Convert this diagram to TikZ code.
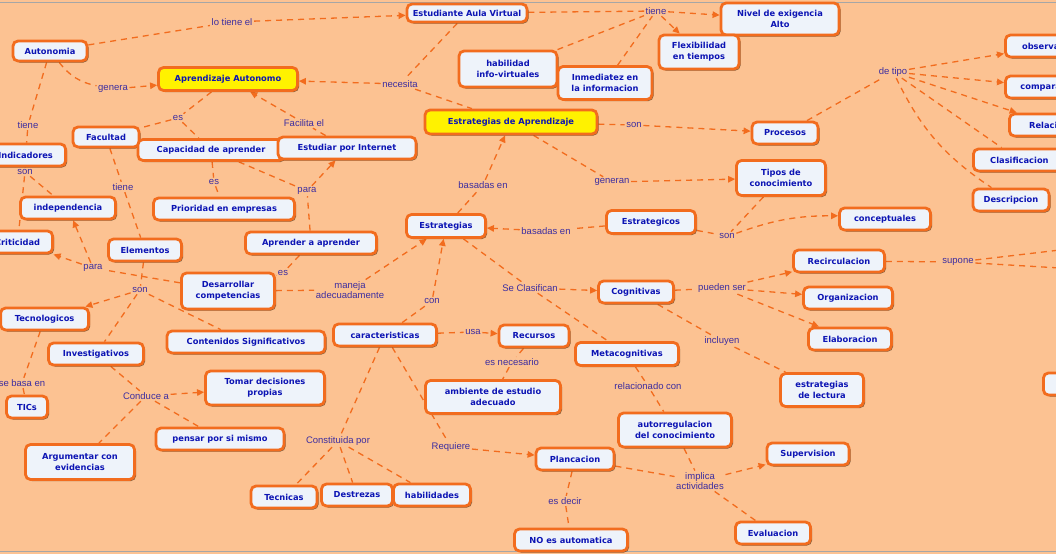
\documentclass[tikz,border=0pt]{standalone}
\usepackage{fontspec}
\setmainfont{Liberation Sans}
\newfontfamily\boxfont{DejaVu Sans}
\usetikzlibrary{arrows.meta,shadows}
\definecolor{bgc}{RGB}{252,194,146}
\definecolor{boxc}{RGB}{238,243,250}
\definecolor{orgc}{RGB}{242,108,30}
\definecolor{navy}{RGB}{12,20,180}
\definecolor{labc}{RGB}{60,45,160}
\pgfdeclarelayer{bg}
\pgfsetlayers{bg,main}
\tikzset{
 box/.style={draw=orgc,line width=2.8pt,rounded corners=5pt,fill=boxc,text=navy,align=center,inner sep=1pt,
   font=\boxfont\bfseries\fontsize{8.3}{11}\selectfont,drop shadow={shadow xshift=1.5pt,shadow yshift=-1.5pt,fill=black!60!brown,opacity=0.7}},
 yel/.style={box,fill=yellow},
 lab/.style={text=labc,font=\fontsize{9.5}{10.5}\selectfont,inner sep=1.5pt,align=center},
 ed/.style={draw=orgc,dash pattern=on 6pt off 5pt,line width=1.3pt},
 ar/.style={ed,-{Triangle[length=7pt,width=6.5pt]}},
}
\begin{document}
\begin{tikzpicture}[x=1pt,y=-1pt]
\useasboundingbox (0,0) rectangle (1056,554);
\begin{pgfonlayer}{bg}
\fill[bgc] (0,0) rectangle (1056,554);
\draw[gray!70,line width=1pt] (0,2) -- (1056,2) (0,551) -- (1056,551);
\end{pgfonlayer}
% nodes
\node[box,minimum width=120pt,minimum height=18pt] (est) at (467,13) {Estudiante Aula Virtual};
\node[box,minimum width=118pt,minimum height=32pt] (niv) at (780,19) {Nivel de exigencia\\Alto};
\node[box,minimum width=74pt,minimum height=20pt] (aut) at (50,51) {Autonomia};
\node[yel,minimum width=139pt,minimum height=23pt] (aa) at (228,79) {Aprendizaje Autonomo};
\node[box,minimum width=98pt,minimum height=36pt] (hab) at (508,69) {habilidad\\info-virtuales};
\node[box,minimum width=80pt,minimum height=34pt] (flex) at (699,52) {Flexibilidad\\en tiempos};
\node[box,minimum width=94pt,minimum height=33pt] (inm) at (605,83) {Inmediatez en\\la informacion};
\node[yel,minimum width=172pt,minimum height=24pt] (eda) at (511,122) {Estrategias de Aprendizaje};
\node[box,minimum width=66pt,minimum height=22pt] (proc) at (785,133) {Procesos};
\node[box,minimum width=89pt,minimum height=35pt] (tipos) at (781,178) {Tipos de\\conocimiento};
\node[box,minimum width=90pt,minimum height=22pt,anchor=west] (obs) at (1004,46) {observacion};
\node[box,minimum width=90pt,minimum height=22pt,anchor=west] (comp) at (1004,87) {comparacion};
\node[box,minimum width=90pt,minimum height=22pt,anchor=west] (rel) at (1008,125) {Relaciones};
\node[box,minimum width=92pt,minimum height=22pt,anchor=west] (clas) at (972,160) {Clasificacion};
\node[box,minimum width=76pt,minimum height=22pt] (desc) at (1011,200) {Descripcion};
\node[box,minimum width=40pt,minimum height=22pt,anchor=west] (fx) at (1042,384) {F};
\node[box,minimum width=66pt,minimum height=20pt] (fac) at (106,137) {Facultad};
\node[box,minimum width=146pt,minimum height=21pt] (cap) at (211,150) {Capacidad de aprender};
\node[box,minimum width=138pt,minimum height=22pt] (epi) at (347,148) {Estudiar por Internet};
\node[box,minimum width=80pt,minimum height=22pt,anchor=east] (ind) at (67,155) {Indicadores};
\node[box,minimum width=95pt,minimum height=22pt] (indep) at (68,208) {independencia};
\node[box,minimum width=141pt,minimum height=22pt] (prio) at (224,209) {Prioridad en empresas};
\node[box,minimum width=79pt,minimum height=23pt] (estr) at (446,226) {Estrategias};
\node[box,minimum width=89pt,minimum height=23pt] (estg) at (651,222) {Estrategicos};
\node[box,minimum width=91pt,minimum height=22pt] (conc) at (885,219) {conceptuales};
\node[box,minimum width=70pt,minimum height=22pt,anchor=east] (crit) at (54,242) {Criticidad};
\node[box,minimum width=73pt,minimum height=22pt] (elem) at (145,250) {Elementos};
\node[box,minimum width=131pt,minimum height=22pt] (aaa) at (311,243) {Aprender a aprender};
\node[box,minimum width=91pt,minimum height=22pt] (recir) at (839,261) {Recirculacion};
\node[box,minimum width=93pt,minimum height=36pt] (des) at (228,291) {Desarrollar\\competencias};
\node[box,minimum width=75pt,minimum height=22pt] (cog) at (636,292) {Cognitivas};
\node[box,minimum width=89pt,minimum height=22pt] (org) at (848,298) {Organizacion};
\node[box,minimum width=88pt,minimum height=22pt,anchor=east] (tec) at (90,319) {Tecnologicos};
\node[box,minimum width=103pt,minimum height=22pt] (car) at (385,335) {caracteristicas};
\node[box,minimum width=158pt,minimum height=22pt] (cont) at (246,342) {Contenidos Significativos};
\node[box,minimum width=70pt,minimum height=22pt] (recu) at (534,336) {Recursos};
\node[box,minimum width=83pt,minimum height=22pt] (elab) at (850,339) {Elaboracion};
\node[box,minimum width=95pt,minimum height=22pt] (inv) at (96,354) {Investigativos};
\node[box,minimum width=103pt,minimum height=23pt] (meta) at (627,354) {Metacognitivas};
\node[box,minimum width=135pt,minimum height=33pt] (amb) at (493,397) {ambiente de estudio\\adecuado};
\node[box,minimum width=119pt,minimum height=34pt] (tom) at (265,388) {Tomar decisiones\\propias};
\node[box,minimum width=83pt,minimum height=33pt] (lect) at (822,390) {estrategias\\de lectura};
\node[box,minimum width=41pt,minimum height=22pt] (tics) at (27,407) {TICs};
\node[box,minimum width=113pt,minimum height=34pt] (autr) at (675,430) {autorregulacion\\del conocimiento};
\node[box,minimum width=128pt,minimum height=22pt] (pen) at (220,439) {pensar por si mismo};
\node[box,minimum width=109pt,minimum height=35pt] (arg) at (80,462) {Argumentar con\\evidencias};
\node[box,minimum width=82pt,minimum height=22pt] (sup) at (808,454) {Supervision};
\node[box,minimum width=78pt,minimum height=22pt] (plan) at (575,459) {Plancacion};
\node[box,minimum width=66pt,minimum height=22pt] (tecn) at (284,497) {Tecnicas};
\node[box,minimum width=71pt,minimum height=22pt] (destr) at (357,495) {Destrezas};
\node[box,minimum width=77pt,minimum height=22pt] (habi) at (432,495) {habilidades};
\node[box,minimum width=75pt,minimum height=22pt] (eval) at (773,533) {Evaluacion};
\node[box,minimum width=113pt,minimum height=22pt] (noes) at (571,540) {NO es automatica};
% labels
\node[lab] (l1) at (232,22) {lo tiene el};
\node[lab] (l2) at (656,11) {tiene};
\node[lab] (l3) at (113,89) {genera};
\node[lab] (l4) at (400,84) {necesita};
\node[lab] (l5) at (28,125) {tiene};
\node[lab] (l6) at (178,118) {es};
\node[lab] (l7) at (304,123) {Facilita el};
\node[lab] (l8) at (634,125) {son};
\node[lab] (l9) at (893,72) {de tipo};
\node[lab] (l10) at (25,172) {son};
\node[lab] (l11) at (123,187) {tiene};
\node[lab] (l12) at (214,182) {es};
\node[lab] (l13) at (307,191) {para};
\node[lab] (l14) at (483,185) {basadas en};
\node[lab] (l15) at (612,182) {generan};
\node[lab] (l16) at (546,231) {basadas en};
\node[lab] (l17) at (727,236) {son};
\node[lab] (l18) at (93,268) {para};
\node[lab] (l19) at (283,273) {es};
\node[lab] (l20) at (350,290) {maneja\\adecuadamente};
\node[lab] (l21) at (140,290) {son};
\node[lab] (l22) at (530,288) {Se Clasifican};
\node[lab] (l23) at (722,288) {pueden ser};
\node[lab] (l24) at (958,262) {supone};
\node[lab] (l25) at (432,301) {con};
\node[lab] (l26) at (473,332) {usa};
\node[lab] (l27) at (512,362) {es necesario};
\node[lab] (l28) at (722,341) {incluyen};
\node[lab] (l29) at (22,383) {se basa en};
\node[lab] (l30) at (146,396) {Conduce a};
\node[lab] (l31) at (648,386) {relacionado con};
\node[lab] (l32) at (338,441) {Constituida por};
\node[lab] (l33) at (451,447) {Requiere};
\node[lab] (l34) at (700,481) {implica\\actividades};
\node[lab] (l35) at (565,501) {es decir};
\coordinate (rs1) at (1060,250);
\coordinate (rs2) at (1060,268);
% edges
\begin{pgfonlayer}{bg}
\draw[ed] (aut) -- (l1); \draw[ar] (l1) -- (est);
\draw[ed] (est) -- (l4); \draw[ed] (l4) -- (eda); \draw[ar] (l4) -- (aa);
\draw[ed] (aut) to[bend right=20] (l3); \draw[ar] (l3) -- (aa);
\draw[ed] (aut) -- (l5); \draw[ed] (l5) -- (ind);
\draw[ed] (aa) -- (l6); \draw[ed] (l6) -- (fac); \draw[ed] (l6) -- (cap);
\draw[ed] (epi) -- (l7); \draw[ar] (l7) -- (aa);
\draw[ed] (est) -- (l2); \draw[ar] (l2) -- (niv); \draw[ar] (l2) -- (flex);
\draw[ed] (hab) -- (l2); \draw[ed] (inm) -- (l2);
\draw[ed] (eda) -- (l8); \draw[ar] (l8) -- (proc);
\draw[ed] (proc) -- (l9);
\draw[ar] (l9) -- (obs); \draw[ar] (l9) -- (comp); \draw[ar] (l9) -- (rel);
\draw[ed] (l9) -- (clas); \draw[ed] (l9) to[bend right=15] (desc);
\draw[ed] (estr) -- (l14); \draw[ar] (l14) -- (eda);
\draw[ed] (eda) -- (l15); \draw[ar] (l15) -- (tipos);
\draw[ed] (estg) -- (l16); \draw[ar] (l16) -- (estr);
\draw[ed] (tipos) -- (l17); \draw[ed] (estg) -- (l17); \draw[ar] (l17) to[bend left=10] (conc);
\draw[ed] (ind) -- (l10); \draw[ed] (l10) -- (indep); \draw[ed] (l10) -- (crit);
\draw[ed] (fac) -- (l11); \draw[ed] (l11) -- (elem);
\draw[ed] (cap) -- (l12); \draw[ed] (l12) -- (prio);
\draw[ed] (cap) -- (l13); \draw[ed] (aaa) -- (l13); \draw[ar] (l13) -- (epi);
\draw[ed] (aaa) -- (l19); \draw[ed] (l19) -- (des);
\draw[ed] (des) -- (l20); \draw[ar] (l20) -- (estr);
\draw[ed] (des) -- (l18); \draw[ar] (l18) -- (crit); \draw[ar] (l18) -- (indep);
\draw[ed] (elem) -- (l21); \draw[ar] (l21) -- (tec); \draw[ed] (l21) -- (inv); \draw[ed] (l21) -- (cont);
\draw[ed] (estr) -- (l22); \draw[ar] (l22) -- (cog); \draw[ed] (l22) -- (meta);
\draw[ed] (car) -- (l25); \draw[ar] (l25) -- (estr);
\draw[ed] (car) -- (l26); \draw[ar] (l26) -- (recu);
\draw[ed] (recu) -- (l27); \draw[ed] (l27) -- (amb);
\draw[ed] (car) -- (l32); \draw[ed] (l32) -- (tecn); \draw[ed] (l32) -- (destr); \draw[ed] (l32) -- (habi);
\draw[ed] (car) -- (l33); \draw[ar] (l33) -- (plan);
\draw[ed] (cog) -- (l23); \draw[ar] (l23) -- (recir); \draw[ar] (l23) -- (org); \draw[ar] (l23) -- (elab);
\draw[ed] (cog) -- (l28); \draw[ed] (l28) -- (lect);
\draw[ed] (recir) -- (l24); \draw[ed] (l24) -- (rs1); \draw[ed] (l24) -- (rs2);
\draw[ed] (meta) -- (l31); \draw[ed] (l31) -- (autr);
\draw[ed] (autr) -- (l34); \draw[ed] (plan) -- (l34); \draw[ar] (l34) -- (sup); \draw[ed] (l34) -- (eval);
\draw[ed] (plan) -- (l35); \draw[ed] (l35) -- (noes);
\draw[ed] (tec) -- (l29); \draw[ed] (l29) -- (tics);
\draw[ed] (inv) -- (l30); \draw[ar] (l30) -- (tom); \draw[ed] (l30) -- (pen); \draw[ed] (l30) -- (arg);
\end{pgfonlayer}
\end{tikzpicture}
\end{document}
